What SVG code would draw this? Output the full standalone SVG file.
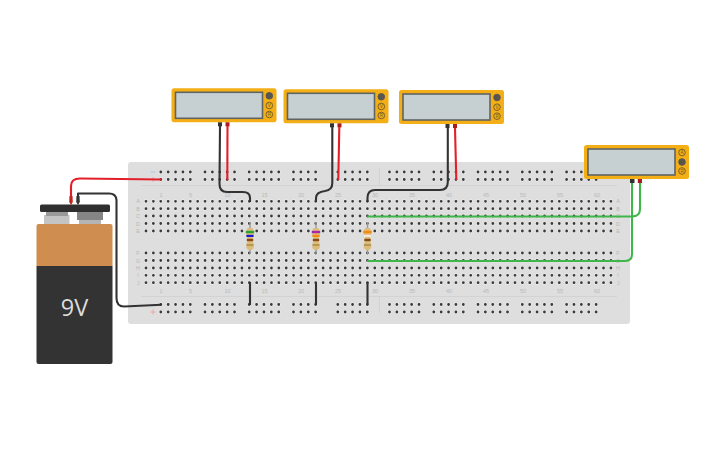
<svg xmlns="http://www.w3.org/2000/svg" width="725" height="453" viewBox="0 0 725 453">
<style>
.hole{fill:none;stroke:#3a3a3a;stroke-width:2.8;stroke-linecap:round;stroke-dasharray:0 7.38}
.halo{fill:none;stroke:#efefef;stroke-width:4;stroke-linecap:round;stroke-dasharray:0 7.38}
.sep{stroke:#cfcfcf;stroke-width:.7;fill:none}
.lb{font:5.5px "Liberation Sans",sans-serif;fill:#b8b8b8;text-anchor:middle}
.w{fill:none;stroke-width:2.1;stroke-linecap:butt;stroke-linejoin:round}
.k{stroke:#333}.r{stroke:#e3202a}.g{stroke:#3fb54a}
.case{fill:#f4ae16}.lcd{fill:#c6d0d3;stroke:#5f6463;stroke-width:1.6}
.bt{fill:none;stroke:#6b5a2a;stroke-width:.9}.on{fill:#555;stroke:#555}
.bl{font:4.5px "Liberation Sans",sans-serif;fill:#6b5a2a;text-anchor:middle}
.body{fill:#dcbc7c}.lead{stroke:#9a9a9a;stroke-width:1.4}
</style>
<defs>
<g id="meter">
<rect class="case" x="0" y="0" width="105" height="34" rx="2.5"/>
<rect class="lcd" x="4" y="4" width="87" height="26"/>
<rect x="46.500" y="34" width="4" height="4" fill="#333"/>
<rect x="54" y="34" width="4" height="4" fill="#a81e1e"/>
</g>
<g id="res">
<line class="lead" x1="0" y1="-1" x2="0" y2="31"/>
<path class="body" d="M-2.400 5H2.400L3.700 8V12L2.700 14V19L3.700 21V25L1.500 27H-1.500L-3.700 25V21L-2.700 19V14L-3.700 12V8Z"/>
<rect x="-3.500" y="21.300" width="7" height="1.400" fill="#a8893f"/>
</g>
</defs>
<g id="breadboard">
<rect x="128" y="162" width="502" height="162" rx="3" fill="#dedede"/>
<path class="sep" d="M141 185.500H617M141 296.500H617M379.500 168V185M379.500 296V313"/>
<g id="holes-main">
<path class="halo" d="M146 201.300H612M146 208.700H612M146 216H612M146 223.500H612M146 231H612M146 253H612M146 260.500H612M146 268H612M146 275.300H612M146 282.700H612"/>
<path class="hole" d="M146 201.300H612M146 208.700H612M146 216H612M146 223.500H612M146 231H612M146 253H612M146 260.500H612M146 268H612M146 275.300H612M146 282.700H612"/>
</g>
<g id="holes-rails">
<path class="halo" d="M160.800 172H191M205 172H235M249.200 172H279M293.500 172H323M337.800 172H368M389.500 172H420M433.800 172H464M478 172H508M522.300 172H552M566.600 172H597M160.800 179.500H191M205 179.500H235M249.200 179.500H279M293.500 179.500H323M337.800 179.500H368M389.500 179.500H420M433.800 179.500H464M478 179.500H508M522.300 179.500H552M566.600 179.500H597M160.800 304.500H191M205 304.500H235M249.200 304.500H279M293.500 304.500H323M337.800 304.500H368M389.500 304.500H420M433.800 304.500H464M478 304.500H508M522.300 304.500H552M566.600 304.500H597M160.800 312H191M205 312H235M249.200 312H279M293.500 312H323M337.800 312H368M389.500 312H420M433.800 312H464M478 312H508M522.300 312H552M566.600 312H597"/>
<path class="hole" d="M160.800 172H191M205 172H235M249.200 172H279M293.500 172H323M337.800 172H368M389.500 172H420M433.800 172H464M478 172H508M522.300 172H552M566.600 172H597M160.800 179.500H191M205 179.500H235M249.200 179.500H279M293.500 179.500H323M337.800 179.500H368M389.500 179.500H420M433.800 179.500H464M478 179.500H508M522.300 179.500H552M566.600 179.500H597M160.800 304.500H191M205 304.500H235M249.200 304.500H279M293.500 304.500H323M337.800 304.500H368M389.500 304.500H420M433.800 304.500H464M478 304.500H508M522.300 304.500H552M566.600 304.500H597M160.800 312H191M205 312H235M249.200 312H279M293.500 312H323M337.800 312H368M389.500 312H420M433.800 312H464M478 312H508M522.300 312H552M566.600 312H597"/>
</g>
<path d="M150.500 172H155.500" stroke="#a9c6e0" stroke-width=".9"/>
<path d="M150.500 305H155.500" stroke="#a9c6e0" stroke-width=".9" opacity=".4"/>
<path d="M150.500 179.500H155.500M153 177V182M150.500 312H155.500M153 309.500V314.500" stroke="#f0a0a0" stroke-width=".9"/>
<g class="lb">
<text x="138" y="203">A</text><text x="138" y="210.500">B</text><text x="138" y="218">C</text><text x="138" y="225.500">D</text><text x="138" y="233">E</text>
<text x="138" y="255">F</text><text x="138" y="262.500">G</text><text x="138" y="270">H</text><text x="138" y="277.300">I</text><text x="138" y="284.700">J</text>
<text x="618" y="203">A</text><text x="618" y="210.500">B</text><text x="618" y="218">C</text><text x="618" y="225.500">D</text><text x="618" y="233">E</text>
<text x="618" y="255">F</text><text x="618" y="262.500">G</text><text x="618" y="270">H</text><text x="618" y="277.300">I</text><text x="618" y="284.700">J</text>
<text x="161" y="196.500">1</text><text x="190.500" y="196.500">5</text><text x="227.500" y="196.500">10</text><text x="264.500" y="196.500">15</text><text x="301" y="196.500">20</text><text x="338" y="196.500">25</text><text x="375" y="196.500">30</text><text x="412" y="196.500">35</text><text x="449" y="196.500">40</text><text x="486" y="196.500">45</text><text x="523" y="196.500">50</text><text x="560" y="196.500">55</text><text x="597" y="196.500">60</text>
<text x="161" y="292.500">1</text><text x="190.500" y="292.500">5</text><text x="227.500" y="292.500">10</text><text x="264.500" y="292.500">15</text><text x="301" y="292.500">20</text><text x="338" y="292.500">25</text><text x="375" y="292.500">30</text><text x="412" y="292.500">35</text><text x="449" y="292.500">40</text><text x="486" y="292.500">45</text><text x="523" y="292.500">50</text><text x="560" y="292.500">55</text><text x="597" y="292.500">60</text>
</g>
</g>
<g id="battery">
<rect x="44" y="215" width="25.500" height="10" fill="#c4c4c4"/>
<rect x="46" y="211" width="22" height="5" fill="#9a9a9a"/>
<rect x="79" y="219" width="22" height="6" fill="#b4b4b4"/>
<rect x="77" y="211" width="26" height="9" fill="#858585"/>
<rect x="40" y="204.500" width="70" height="7.500" rx="1.500" fill="#2f2f2f"/>
<path d="M36.500 266V226Q36.500 224 38.500 224H110.500Q112.500 224 112.500 226V266Z" fill="#cf8d50"/>
<path d="M36.500 266H112.500V362Q112.500 364 110.500 364H38.500Q36.500 364 36.500 362Z" fill="#333"/>
<text x="74.500" y="316" font-family="'Open Sans',sans-serif" font-size="23.500" fill="#dcdcdc" text-anchor="middle">9V</text>
</g>
<g id="resistor-1"><use href="#res" x="250" y="223"/><rect x="245.800" y="230.800" width="8.400" height="2.400" fill="#2da12d"/><rect x="246.400" y="234.800" width="7.200" height="2.200" fill="#1a1ad0"/><rect x="246.800" y="238.800" width="6.400" height="2.400" fill="#8a4a12"/></g>
<g id="resistor-2"><use href="#res" x="316" y="223"/><rect x="311.800" y="230.800" width="8.400" height="2.400" fill="#a825a8"/><rect x="312.400" y="234.800" width="7.200" height="2.200" fill="#f58a0c"/><rect x="312.800" y="238.800" width="6.400" height="2.400" fill="#8a4a12"/></g>
<g id="resistor-3"><use href="#res" x="367.500" y="223"/><rect x="363.300" y="230.800" width="8.400" height="2.400" fill="#f58a0c"/><rect x="363.900" y="234.800" width="7.200" height="2.200" fill="#f5ecd8"/><rect x="364.300" y="238.800" width="6.400" height="2.400" fill="#8a4a12"/></g>
<g id="meter-1"><use href="#meter" x="171.500" y="88.300"/><circle class="bt on" cx="269.300" cy="95.800" r="3.300"/><circle class="bt" cx="269.300" cy="105.500" r="3.300"/><circle class="bt" cx="269.300" cy="114.500" r="3.300"/><text class="bl" x="269.300" y="97.400">A</text><text class="bl" x="269.300" y="107.100">V</text><text class="bl" x="269.300" y="116.100">R</text></g>
<g id="meter-2"><use href="#meter" x="283.500" y="89.300"/><circle class="bt on" cx="381.300" cy="96.800" r="3.300"/><circle class="bt" cx="381.300" cy="106.500" r="3.300"/><circle class="bt" cx="381.300" cy="115.500" r="3.300"/><text class="bl" x="381.300" y="98.400">A</text><text class="bl" x="381.300" y="108.100">V</text><text class="bl" x="381.300" y="117.100">R</text></g>
<g id="meter-3"><use href="#meter" x="399" y="90"/><circle class="bt on" cx="497" cy="97.500" r="3.300"/><circle class="bt" cx="497" cy="107.200" r="3.300"/><circle class="bt" cx="497" cy="116.200" r="3.300"/><text class="bl" x="497" y="99.100">A</text><text class="bl" x="497" y="108.800">V</text><text class="bl" x="497" y="117.800">R</text></g>
<g id="meter-4"><use href="#meter" x="584" y="145"/><circle class="bt" cx="682" cy="152.500" r="3.300"/><circle class="bt on" cx="682" cy="162" r="3.300"/><circle class="bt" cx="682" cy="171" r="3.300"/><text class="bl" x="682" y="154.100">A</text><text class="bl" x="682" y="163.600">V</text><text class="bl" x="682" y="172.600">R</text></g>
<g id="connectors">
<path class="w r" d="M227.500 126L227.300 180"/>
<path class="w r" d="M339.300 127L338.300 180"/>
<path class="w r" d="M455 128L456.300 180"/>
<path class="w k" d="M220 126L219.500 184Q219.500 192 227 192H243Q250 192 250 198V202"/>
<path class="w k" d="M332.300 127V183Q332.300 190 325 191Q316 192 316 198V202"/>
<path class="w k" d="M447.800 128V182Q447.800 190 440 190H375Q367.500 190 367.500 198V202"/>
<path class="w k" d="M250 282V305M316 282V305M367.500 282V305"/>
<path class="w g" d="M640 183V209Q640 216.500 632 216.500H367"/>
<path class="w g" d="M632 183V254Q632 261 625 261H367"/>
<path class="w r" d="M161.500 179.500L80 178.500Q71 178.500 71 186V198"/>
<path class="w k" d="M78 198V193.500H109Q116 193.500 116.500 200V298Q116.500 306.500 124 306.500L161.500 304.700"/>
<path d="M69.500 196H72.500L72.800 202L71 205L69.200 202Z" fill="#c0271f"/>
<path d="M76.500 196H79.500L79.800 202L78 205L76.200 202Z" fill="#333"/>
<rect x="630" y="179" width="4" height="4" fill="#333"/>
<rect x="637.800" y="179" width="4" height="4" fill="#a81e1e"/>
</g>
</svg>
